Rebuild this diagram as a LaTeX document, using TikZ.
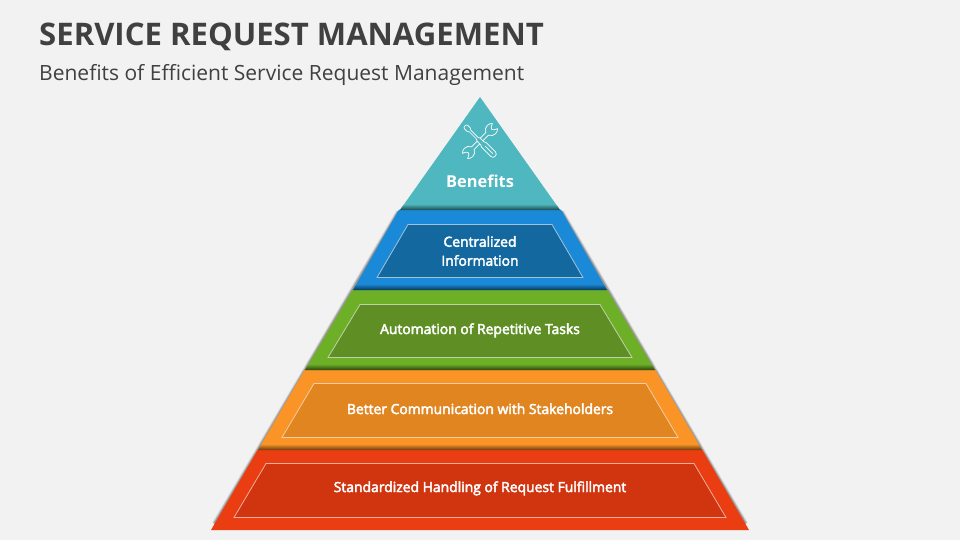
\documentclass[tikz,border=0pt]{standalone}
\usepackage{fontspec}
\setmainfont{Open Sans}
\newfontfamily\semifont[FakeBold=3.2]{Open Sans}
\usetikzlibrary{calc}
\definecolor{bg}{HTML}{F2F2F2}
\definecolor{ink}{HTML}{404040}
\definecolor{teal}{HTML}{4FB7BF}
\definecolor{blueA}{HTML}{1A8AD8}
\definecolor{blueB}{HTML}{12689F}
\definecolor{greenA}{HTML}{6EAF28}
\definecolor{greenB}{HTML}{5F8F24}
\definecolor{orangeA}{HTML}{FB9426}
\definecolor{orangeB}{HTML}{E0851F}
\definecolor{redA}{HTML}{EB3D12}
\definecolor{redB}{HTML}{D13510}
\tikzset{
  inner band/.style={draw=white!60!#1,line width=0.8pt,fill=#1},
  band label/.style={text=white,font=\fontsize{13.9}{19}\semifont,align=center},
  tool/.style={draw=white,line width=0.7pt,line join=round}
}
% shadow: darkening towards the bottom edge of the upper band
\newcommand{\bandshade}[3]{%
  \foreach \d/\o in {5/.10,4/.10,3/.12,2/.14,1/.16}{
    \fill[black,opacity=\o] (#1,#3) -- (#2,#3) -- ($(#2,#3)+(-.58*\d,-\d)$) -- ($(#1,#3)+(.58*\d,-\d)$) -- cycle;
  }
}
\begin{document}
\begin{tikzpicture}[x=1pt,y=-1pt]
\useasboundingbox (0,0) rectangle (960,540);
\fill[bg] (0,0) rectangle (960,540);
% soft edge shadow
\foreach \o/\w in {.10/6,.14/4.5,.18/3}{
  \draw[black,opacity=\o,line width=\w pt] (399,212) -- (215,524);
  \draw[black,opacity=\o,line width=\w pt] (561,212) -- (745,524);
}
\node[anchor=west,text=ink,font=\fontsize{31.1}{36}\selectfont\bfseries,inner sep=0pt] (title) at (39,37) {SERVICE REQUEST MANAGEMENT};
\node[anchor=west,text=ink,font=\fontsize{21}{26}\selectfont,inner sep=0pt] (subtitle) at (39,75) {Benefits of Efficient Service Request Management};
% bands
\fill[redA] (258,449.5) -- (702,449.5) -- (749,530) -- (211,530) -- cycle;
\fill[orangeA] (305,369.5) -- (655,369.5) -- (702,450) -- (258,450) -- cycle;
\fill[greenA] (353,289.5) -- (607,289.5) -- (655,370) -- (305,370) -- cycle;
\fill[blueA] (399,209.5) -- (561,209.5) -- (607,290) -- (353,290) -- cycle;
\fill[teal] (480,97) -- (560,210) -- (400,210) -- cycle;
\bandshade{400}{560}{210}
\bandshade{353}{607}{290}
\bandshade{305}{655}{370}
\bandshade{258}{702}{450}
% inner panels
\draw[inner band=blueB] (408,224.5) -- (552,224.5) -- (583,277.5) -- (377,277.5) -- cycle;
\draw[inner band=greenB] (360,304.5) -- (600,304.5) -- (632,357.5) -- (328,357.5) -- cycle;
\draw[inner band=orangeB] (314,383.5) -- (646,383.5) -- (678,437.5) -- (282,437.5) -- cycle;
\draw[inner band=redB] (266,463.5) -- (694,463.5) -- (726,517.5) -- (234,517.5) -- cycle;
% icon: wrench
\begin{scope}[shift={(480,141)},rotate=-45,scale=1.07]
  \draw[tool,fill=teal] (1.7,-9.5) .. controls (4,-10.5) and (5.5,-12.5) .. (5.5,-15) .. controls (5.5,-17) and (4.8,-18.5) .. (3.4,-19.8)
    -- (1.9,-16.6) -- (0,-15.4) -- (-1.9,-16.6) -- (-3.4,-19.8) .. controls (-4.8,-18.5) and (-5.5,-17) .. (-5.5,-15) .. controls (-5.5,-12.5) and (-4,-10.5) .. (-1.7,-9.5)
    -- (-1.7,9.5) .. controls (-4,10.5) and (-5.5,12.5) .. (-5.5,15) .. controls (-5.5,17) and (-4.8,18.5) .. (-3.4,19.8)
    -- (-1.9,16.6) -- (0,15.4) -- (1.9,16.6) -- (3.4,19.8) .. controls (4.8,18.5) and (5.5,17) .. (5.5,15) .. controls (5.5,12.5) and (4,10.5) .. (1.7,9.5) -- cycle;
\end{scope}
% icon: screwdriver
\begin{scope}[shift={(480,141)},rotate=45,scale=1.07]
  \draw[tool,fill=teal] (-1,-4) -- (-1,-13) -- (-2.2,-15) -- (-2.2,-18.5) .. controls (-2.2,-20.5) and (2.2,-20.5) .. (2.2,-18.5) -- (2.2,-15) -- (1,-13) -- (1,-4) -- (2,-2) -- (2,3) -- (3,5) -- (3,17.5) .. controls (3,21) and (-3,21) .. (-3,17.5) -- (-3,5) -- (-2,3) -- (-2,-2) -- cycle;
  \draw[tool] (0,7) -- (0,17);
\end{scope}
% labels
\node[band label,font=\fontsize{16.4}{20}\selectfont\bfseries,anchor=base] (benefits) at (480,187) {Benefits};
\node[band label] (l1) at (480,251) {Centralized\\Information};
\node[band label,anchor=base] (l2) at (480,334) {Automation of Repetitive Tasks};
\node[band label,anchor=base] (l3) at (480,414) {Better Communication with Stakeholders};
\node[band label,anchor=base] (l4) at (480,492) {Standardized Handling of Request Fulfillment};
\end{tikzpicture}
\end{document}
